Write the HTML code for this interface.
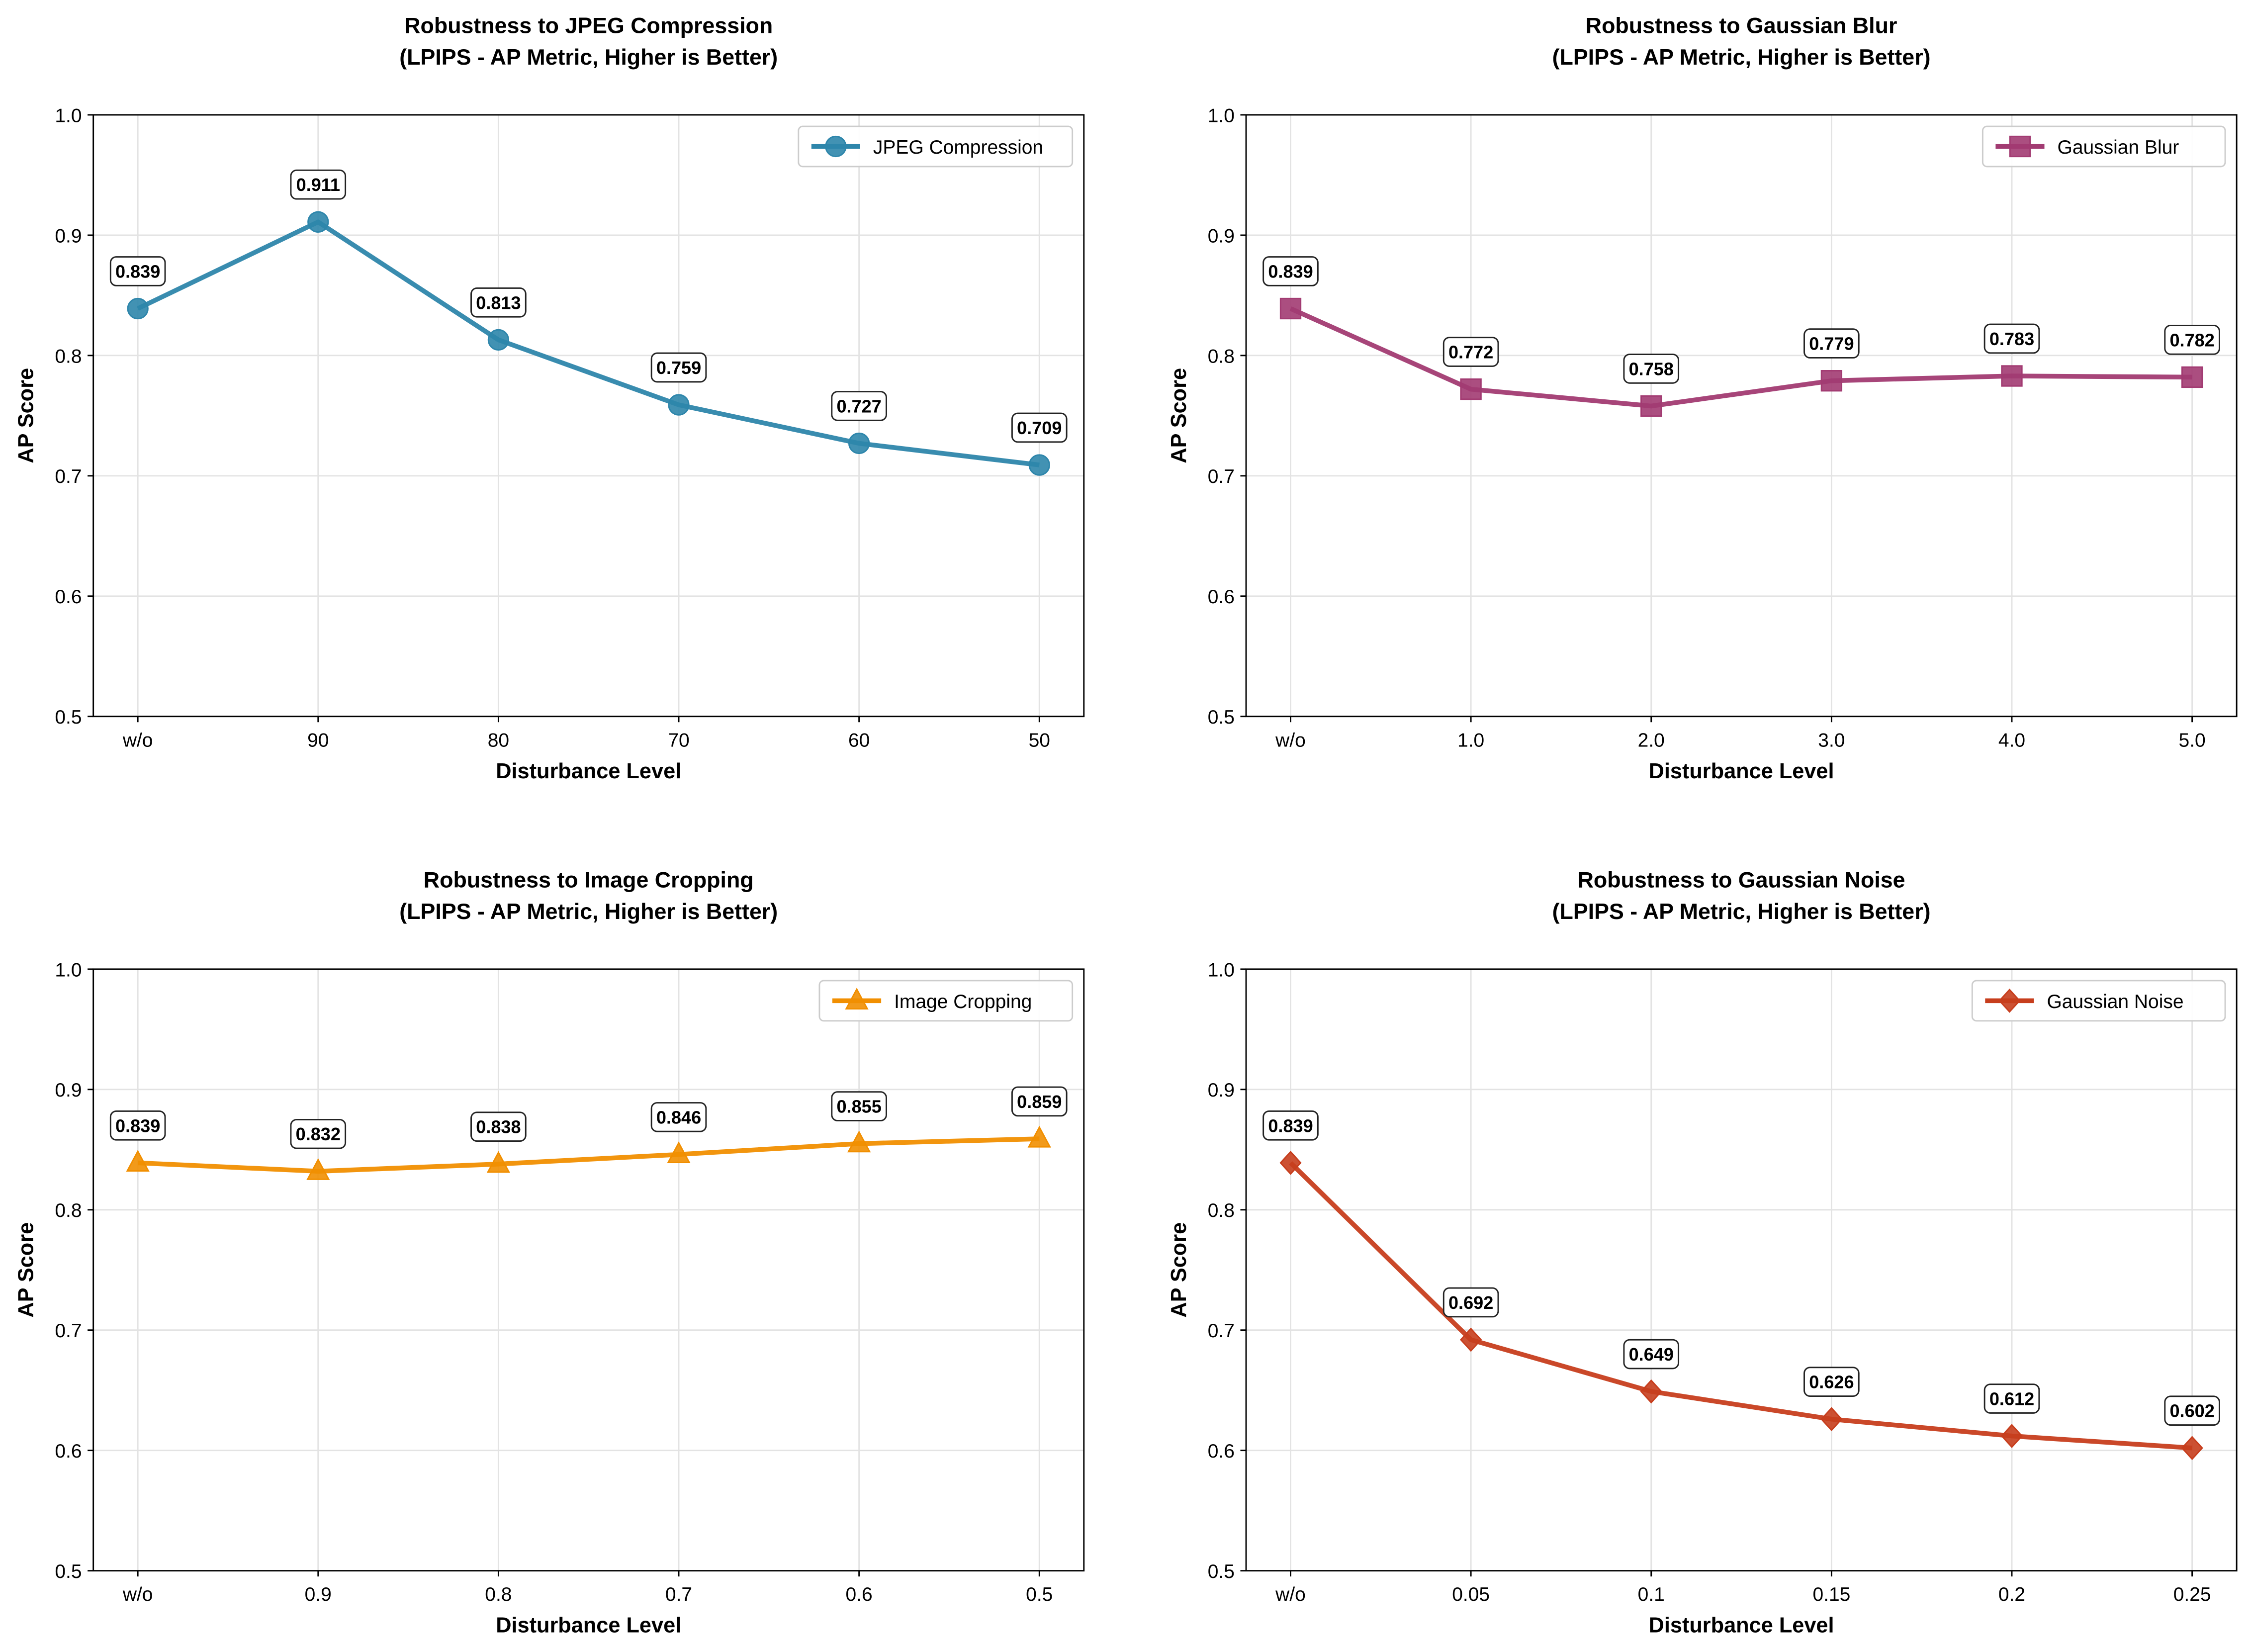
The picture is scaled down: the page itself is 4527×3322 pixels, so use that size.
<!DOCTYPE html>
<html><head><meta charset="utf-8"><style>
html,body{margin:0;padding:0;background:#fff}
svg{display:block}
text{font-family:"Liberation Sans",Arial,sans-serif}
</style></head><body>
<svg id="fig" width="4527" height="3322" viewBox="0 0 1568 1150.6" preserveAspectRatio="none" xmlns="http://www.w3.org/2000/svg"></svg>
<script>
const jpegLabels=["w/o","90","80","70","60","50"];
const jpegValues=[0.839,0.911,0.813,0.759,0.727,0.709];
const blurLabels=["w/o","1.0","2.0","3.0","4.0","5.0"];
const blurValues=[0.839,0.772,0.758,0.779,0.783,0.782];
const cropLabels=["w/o","0.9","0.8","0.7","0.6","0.5"];
const cropValues=[0.839,0.832,0.838,0.846,0.855,0.859];
const noiseLabels=["w/o","0.05","0.1","0.15","0.2","0.25"];
const noiseValues=[0.839,0.692,0.649,0.626,0.612,0.602];
const yTicks=[0.5,0.6,0.7,0.8,0.9,1.0];

const NS="http://www.w3.org/2000/svg";
const fig=document.getElementById('fig');
function mk(tag,attrs,parent){const e=document.createElementNS(NS,tag);for(const k in attrs)e.setAttribute(k,attrs[k]);(parent||fig).appendChild(e);return e;}

const panels=[
 {name:"jpeg",title:"Robustness to JPEG Compression",labels:jpegLabels,values:jpegValues,color:"#2E86AB",marker:"circle",legend:"JPEG Compression",L:65,T:80},
 {name:"blur",title:"Robustness to Gaussian Blur",labels:blurLabels,values:blurValues,color:"#A23B72",marker:"square",legend:"Gaussian Blur",L:868,T:80},
 {name:"crop",title:"Robustness to Image Cropping",labels:cropLabels,values:cropValues,color:"#F18F01",marker:"triangle",legend:"Image Cropping",L:65,T:675},
 {name:"noise",title:"Robustness to Gaussian Noise",labels:noiseLabels,values:noiseValues,color:"#C73E1D",marker:"diamond",legend:"Gaussian Noise",L:868,T:675}
];
const W=690,H=419;

function marker(g,type,x,y,color,sz){
 let e;
 if(type==="circle")e=mk('circle',{cx:x,cy:y,r:sz},g);
 else if(type==="square")e=mk('rect',{x:x-sz,y:y-sz,width:2*sz,height:2*sz},g);
 else if(type==="triangle")e=mk('polygon',{points:`${x},${y-sz*1.15} ${x-sz*1.05},${y+sz*0.8} ${x+sz*1.05},${y+sz*0.8}`},g);
 else e=mk('polygon',{points:`${x},${y-sz*1.1} ${x+sz*1.0},${y} ${x},${y+sz*1.1} ${x-sz*1.0},${y}`},g);
 e.setAttribute('fill',color);e.setAttribute('fill-opacity','0.9');e.setAttribute('stroke',color);e.setAttribute('stroke-width','1');
 return e;
}

panels.forEach(p=>{
 const g=mk('g',{});
 
 
 const L=p.L,T=p.T,R=L+W,B=T+H;
 const n=p.labels.length;
 const xs=i=>L+31+i*(W-62)/(n-1);
 const ys=v=>B-(v-0.5)/0.5*H;
 yTicks.forEach(t=>{const l=mk('line',{x1:L,x2:R,y1:ys(t),y2:ys(t),stroke:"#e3e3e3","stroke-width":1},g);});
 p.labels.forEach((lb,i)=>{const l=mk('line',{x1:xs(i),x2:xs(i),y1:T,y2:B,stroke:"#e3e3e3","stroke-width":1},g);});
 const fr=mk('rect',{x:L,y:T,width:W,height:H,fill:"none",stroke:"#000","stroke-width":1},g);
 
 yTicks.forEach(t=>{
  mk('line',{x1:L-4,x2:L,y1:ys(t),y2:ys(t),stroke:"#000","stroke-width":1},g);
  const tx=mk('text',{x:L-8,y:ys(t)+5,"text-anchor":"end","font-size":13.5},g);tx.textContent=t.toFixed(1);
  
 });
 p.labels.forEach((lb,i)=>{
  mk('line',{x1:xs(i),x2:xs(i),y1:B,y2:B+4,stroke:"#000","stroke-width":1},g);
  const tx=mk('text',{x:xs(i),y:B+21,"text-anchor":"middle","font-size":13.5},g);tx.textContent=lb;
  
 });
 const t1=mk('text',{x:L+W/2,y:T-57,"text-anchor":"middle","font-size":15.5,"font-weight":"bold"},g);t1.textContent=p.title;
 
 const t2=mk('text',{x:L+W/2,y:T-35,"text-anchor":"middle","font-size":15.5,"font-weight":"bold"},g);t2.textContent="(LPIPS - AP Metric, Higher is Better)";
 
 const xl=mk('text',{x:L+W/2,y:B+43,"text-anchor":"middle","font-size":15,"font-weight":"bold"},g);xl.textContent="Disturbance Level";
 
 const yl=mk('text',{x:0,y:0,"text-anchor":"middle","font-size":15,"font-weight":"bold",transform:`translate(${L-42},${T+H/2}) rotate(-90)`},g);yl.textContent="AP Score";
 
 const pts=p.values.map((v,i)=>xs(i)+","+ys(v)).join(" ");
 const pl=mk('polyline',{points:pts,fill:"none",stroke:p.color,"stroke-width":3.3,"stroke-linejoin":"round","stroke-opacity":0.95},g);
 
 p.values.forEach((v,i)=>{
  const m=marker(g,p.marker,xs(i),ys(v),p.color,7);
  
  const bx=xs(i),by=ys(v)-26;
  const r=mk('rect',{x:bx-19,y:by-10,width:38,height:20,rx:4,fill:"#fff",stroke:"#222","stroke-width":1},g);
  
  const tx=mk('text',{x:bx,y:by+4.5,"text-anchor":"middle","font-size":12.5,"font-weight":"bold"},g);tx.textContent=v.toFixed(3);
  
 });
 const lw=p.legend.length*7.3+74;
 const lg=mk('g',{},g);
 mk('rect',{x:R-8-lw,y:T+8,width:lw,height:28,rx:3,fill:"#fff","fill-opacity":0.9,stroke:"#ccc","stroke-width":1},lg);
 mk('line',{x1:R-8-lw+9,x2:R-8-lw+43,y1:T+22,y2:T+22,stroke:p.color,"stroke-width":3.3},lg);
 marker(lg,p.marker,R-8-lw+26,T+22,p.color,7);
 const lt=mk('text',{x:R-8-lw+52,y:T+27,"font-size":13.5},lg);lt.textContent=p.legend;
 
});
</script>
</body></html>
